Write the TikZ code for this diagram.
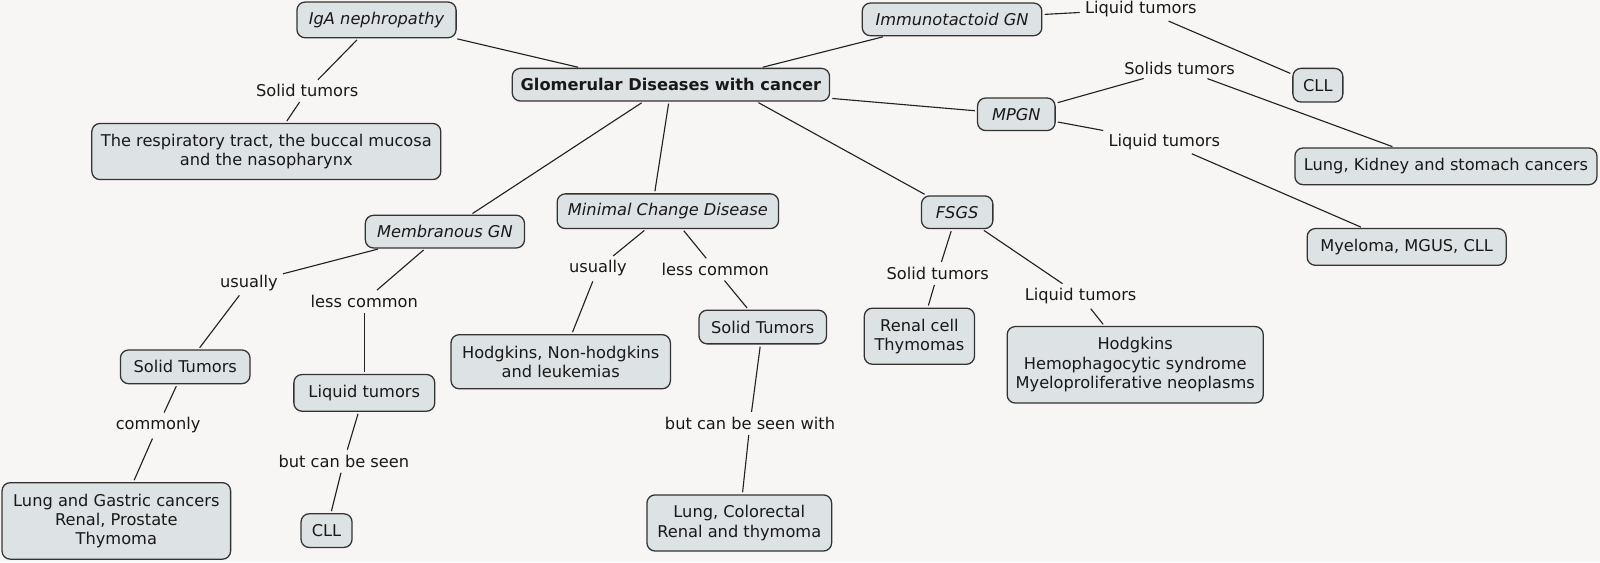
\documentclass[tikz,border=0pt]{standalone}
\usepackage{fontspec}
\setmainfont{DejaVu Sans}
\usetikzlibrary{calc}
\definecolor{bgcol}{HTML}{F7F6F5}
\definecolor{boxfill}{HTML}{DDE2E4}
\definecolor{boxline}{HTML}{333333}
\definecolor{linecol}{HTML}{222222}
\newcommand{\fs}{\fontsize{15.9}{19}\selectfont}
\begin{document}
\begin{tikzpicture}[x=1pt,y=-1pt,
  box/.style={draw=boxline, fill=boxfill, rounded corners=8pt, line width=1.25pt,
    inner sep=0pt, align=center, font=\fs, text=black!90},
  lbl/.style={inner sep=3pt, font=\fs, text=black!90},
  link/.style={draw=linecol, line width=1.1pt, shorten <=2pt, shorten >=2pt}]
\fill[bgcol] (0,0) rectangle (1568,550.8);
\useasboundingbox (0,0) rectangle (1568,550.8);
% boxes
\node[box, minimum width=156, minimum height=35] (iga) at (369,19.5) {\itshape IgA nephropathy};
\node[box, minimum width=311, minimum height=32] (g) at (657.5,83) {\bfseries Glomerular Diseases with cancer};
\node[box, minimum width=176, minimum height=32] (imm) at (933,19) {\itshape Immunotactoid GN};
\node[box, minimum width=49, minimum height=33] (cllA) at (1291.5,83.5) {CLL};
\node[box, minimum width=76, minimum height=32] (mpgn) at (996,112) {\itshape MPGN};
\node[box, minimum width=296, minimum height=36] (lks) at (1417,163) {Lung, Kidney and stomach cancers};
\node[box, minimum width=195, minimum height=36] (mye) at (1378.5,242) {Myeloma, MGUS, CLL};
\node[box, minimum width=342, minimum height=55] (resp) at (261,148.5) {The respiratory tract, the buccal mucosa\\and the nasopharynx};
\node[box, minimum width=156, minimum height=32] (mem) at (436,227) {\itshape Membranous GN};
\node[box, minimum width=217, minimum height=34] (mcd) at (654.5,207) {\itshape Minimal Change Disease};
\node[box, minimum width=70, minimum height=32] (fsgs) at (938,208) {\itshape FSGS};
\node[box, minimum width=127, minimum height=33] (stA) at (181.5,359.5) {Solid Tumors};
\node[box, minimum width=138, minimum height=36] (ltA) at (357,385) {Liquid tumors};
\node[box, minimum width=224, minimum height=75] (lgc) at (114,510.5) {Lung and Gastric cancers\\Renal, Prostate\\Thymoma};
\node[box, minimum width=50, minimum height=33] (cllB) at (320,520) {CLL};
\node[box, minimum width=215, minimum height=53] (hod) at (549.5,354.5) {Hodgkins, Non-hodgkins\\and leukemias};
\node[box, minimum width=125, minimum height=33] (stB) at (747.5,320.5) {Solid Tumors};
\node[box, minimum width=181, minimum height=55] (lcr) at (724.5,512.5) {Lung, Colorectal\\Renal and thymoma};
\node[box, minimum width=108, minimum height=55] (rct) at (901,329.5) {Renal cell\\Thymomas};
\node[box, minimum width=251, minimum height=75] (hhm) at (1112.5,357.5) {Hodgkins\\Hemophagocytic syndrome\\Myeloproliferative neoplasms};
% labels
\node[lbl] (l1) at (301,89) {Solid tumors};
\node[lbl] (l2) at (1118,9) {Liquid tumors};
\node[lbl] (l3) at (1156,67) {Solids tumors};
\node[lbl] (l4) at (1141,139) {Liquid tumors};
\node[lbl] (l5) at (244,277) {usually};
\node[lbl] (l6) at (357,295) {less common};
\node[lbl] (l7) at (155,417) {commonly};
\node[lbl] (l8) at (337,452) {but can be seen};
\node[lbl] (l9) at (586,263) {usually};
\node[lbl] (l10) at (701,264) {less common};
\node[lbl] (l11) at (735,415) {but can be seen with};
\node[lbl] (l12) at (919,268) {Solid tumors};
\node[lbl] (l13) at (1059,290) {Liquid tumors};
% links from centre
\draw[link] ([xshift=-89pt]g.north) -- (iga);
\draw[link] ([xshift=88pt]g.north) -- (imm);
\draw[link] (g) -- (mpgn);
\draw[link] ([xshift=-27pt]g.south) -- (mem);
\draw[link] ([xshift=-2pt]g.south) -- ([xshift=-13pt]mcd.north);
\draw[link] ([xshift=84pt]g.south) -- (fsgs);
% IgA
\draw[link] (iga) -- (l1);
\draw[link] (l1) -- (resp);
% Immunotactoid
\draw[link] (imm) -- (l2);
\draw[link] (l2) -- (cllA);
% MPGN
\draw[link] (mpgn) -- (l3);
\draw[link] (l3) -- (lks);
\draw[link] (mpgn) -- (l4);
\draw[link] (l4) -- (mye);
% Membranous
\draw[link] (mem) -- (l5);
\draw[link] (l5) -- (stA);
\draw[link] (mem) -- (l6);
\draw[link] (l6) -- (ltA);
\draw[link] (stA) -- (l7);
\draw[link] (l7) -- (lgc);
\draw[link] (ltA) -- (l8);
\draw[link] (l8) -- (cllB);
% Minimal change
\draw[link] (mcd) -- (l9);
\draw[link] (l9) -- (hod);
\draw[link] (mcd) -- (l10);
\draw[link] (l10) -- (stB);
\draw[link] (stB) -- (l11);
\draw[link] (l11) -- (lcr);
% FSGS
\draw[link] (fsgs) -- (l12);
\draw[link] (l12) -- (rct);
\draw[link] (fsgs) -- (l13);
\draw[link] (l13) -- (hhm);
\end{tikzpicture}
\end{document}
